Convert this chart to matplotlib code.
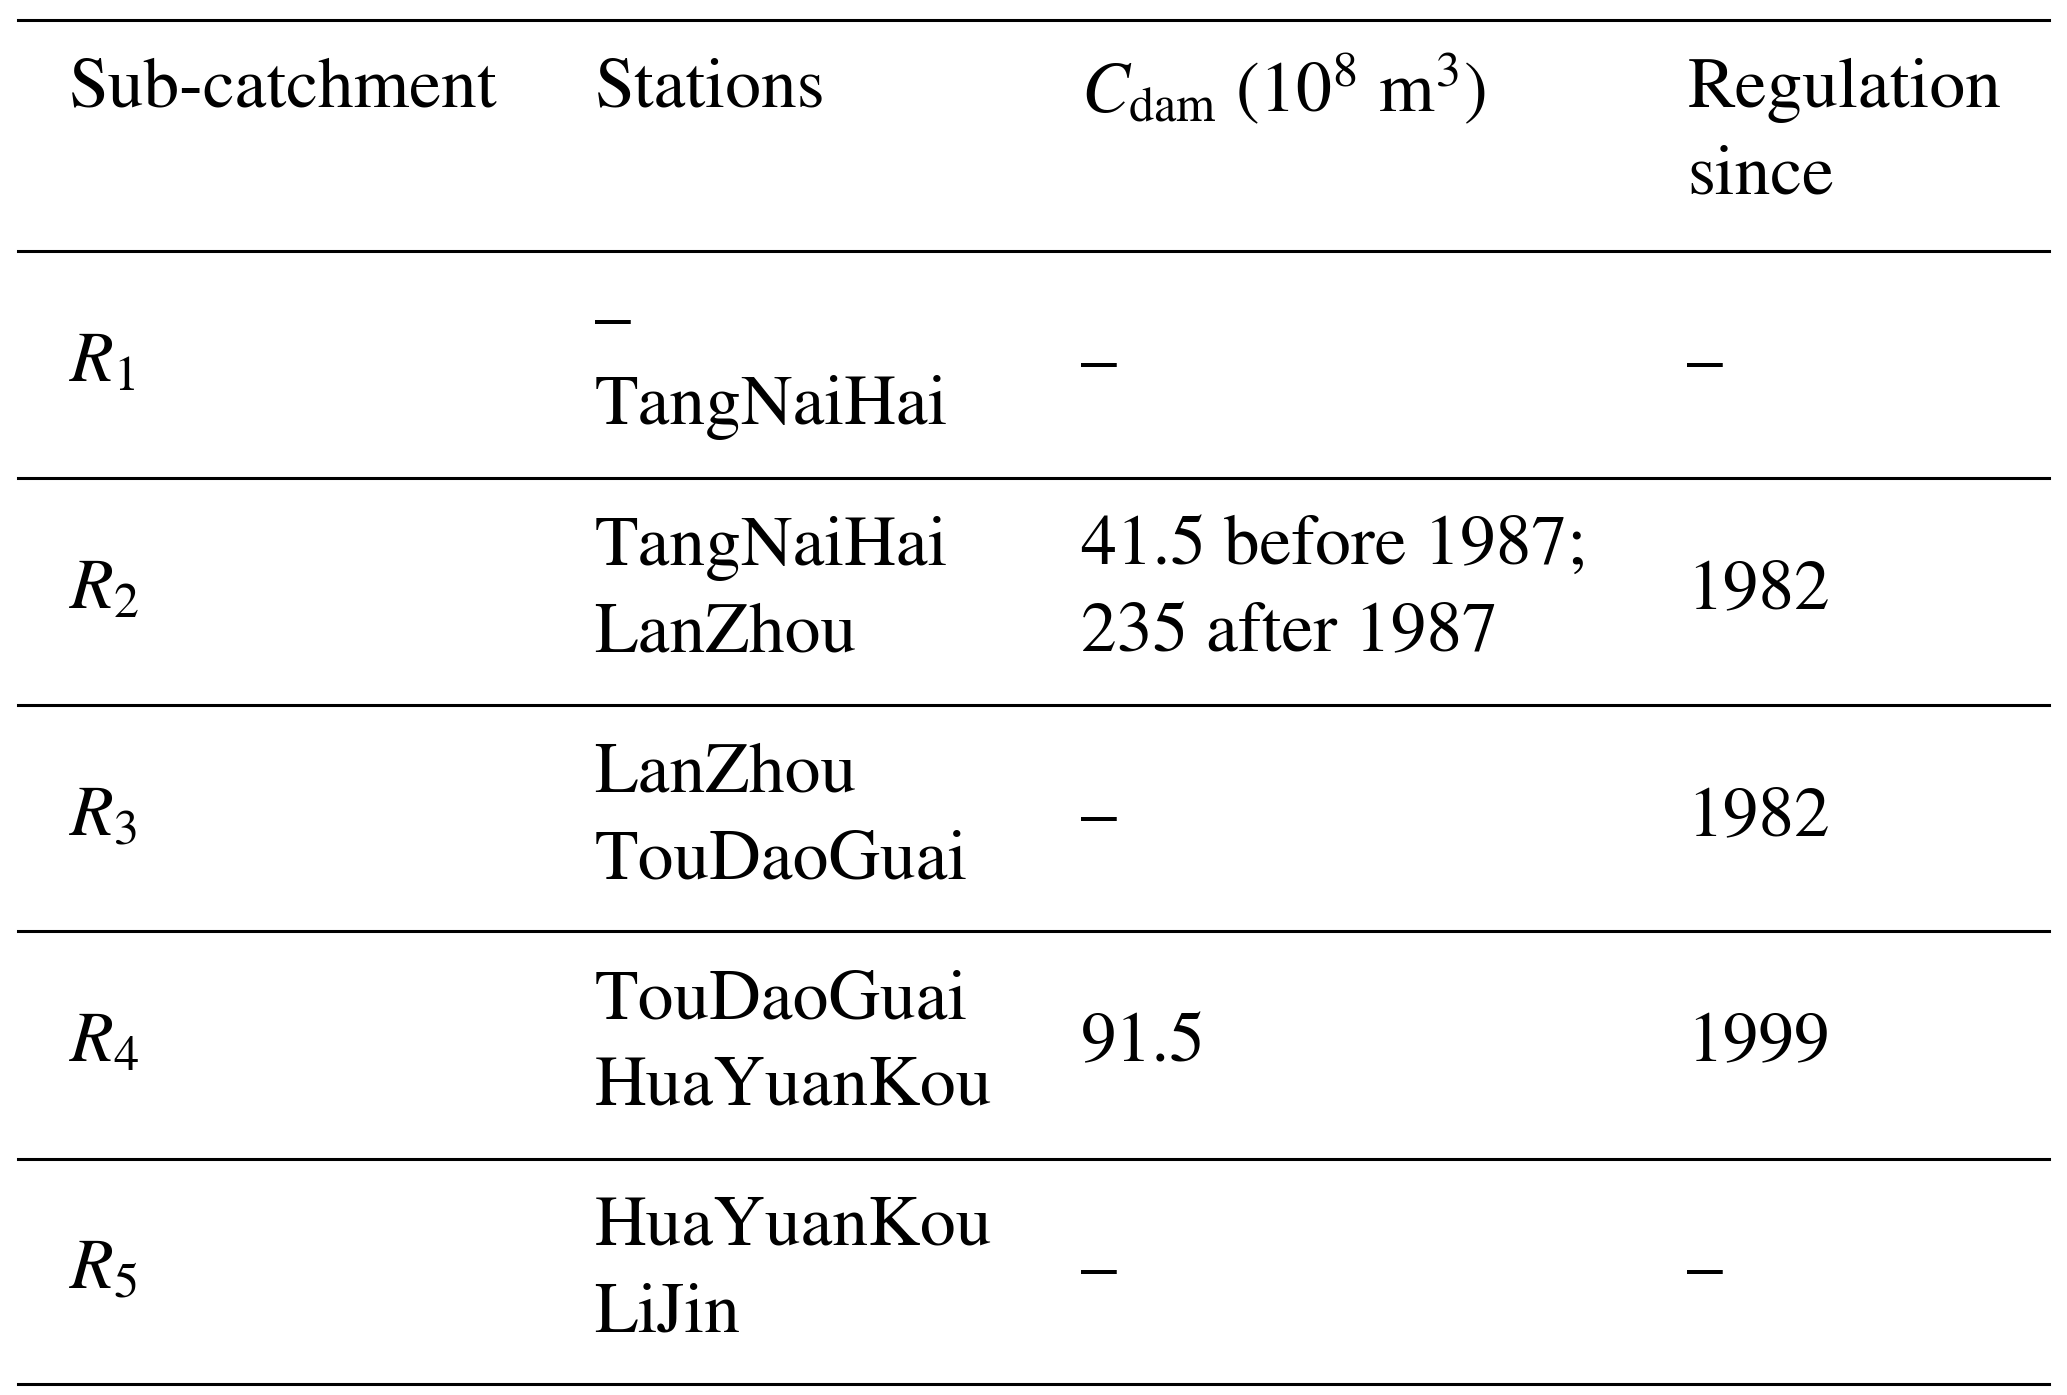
import matplotlib
matplotlib.use("Agg")
import matplotlib.pyplot as plt

plt.rcParams['font.family'] = ['STIXGeneral', 'DejaVu Serif']
plt.rcParams['mathtext.fontset'] = 'stix'

header = [["Sub-catchment"], ["Stations"],
          [r"$C_{\rm dam}$ (10$^8$ m$^3$)"], ["Regulation", "since"]]
subcatch = [r"$R_1$", r"$R_2$", r"$R_3$", r"$R_4$", r"$R_5$"]
stations = [["–", "TangNaiHai"], ["TangNaiHai", "LanZhou"],
            ["LanZhou", "TouDaoGuai"], ["TouDaoGuai", "HuaYuanKou"],
            ["HuaYuanKou", "LiJin"]]
cdam = [["–"], ["41.5 before 1987;", "235 after 1987"], ["–"], ["91.5"], ["–"]]
since = ["–", "1982", "1982", "1999", "–"]

W, H = 1568, 1050
col_x = [52, 451, 820, 1280]
rules = [15, 189, 360, 531, 701, 872, 1042]
line_gap = 65
fs = 51.5

fig = plt.figure(figsize=(20.67, 13.95), dpi=100)
ax = fig.add_axes([0, 0, 1, 1])
ax.set_xlim(0, W)
ax.set_ylim(H, 0)
ax.axis('off')

for y in rules:
    ax.plot([14, 1554], [y, y], color='black', lw=2.2)


def cell(x, yc, lines):
    n = len(lines)
    for i, t in enumerate(lines):
        y = yc + (i - (n - 1) / 2) * line_gap
        ax.text(x, y, t, fontsize=fs, ha='left', va='center')


# header: first line aligned at top
for x, lines in zip(col_x, header):
    for i, t in enumerate(lines):
        ax.text(x, 68 + i * line_gap, t, fontsize=fs, ha='left', va='center')

for r in range(5):
    yc = (rules[r + 1] + rules[r + 2]) / 2
    cell(col_x[0], yc, [subcatch[r]])
    cell(col_x[1], yc, stations[r])
    cell(col_x[2], yc, cdam[r])
    cell(col_x[3], yc, [since[r]])

fig.savefig("out.png", dpi=100)
